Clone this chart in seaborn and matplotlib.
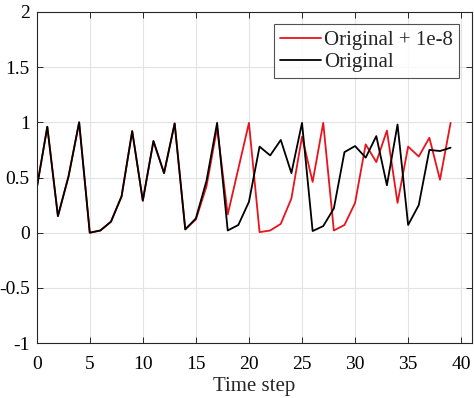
#!/usr/bin/env python3
"""Sensitivity of a chaotic series to a tiny perturbation of its start value."""

import matplotlib.pyplot as plt
import pandas as pd
import seaborn as sns

sns.set_theme(style="ticks")
plt.rcParams["font.family"] = ["Liberation Serif", "DejaVu Serif"]
plt.rcParams["axes.unicode_minus"] = False

TIME_STEPS = list(range(40))

ORIGINAL = [
    0.40, 0.96, 0.15, 0.51, 1.00, 0.00, 0.02, 0.10, 0.33, 0.92,
    0.29, 0.83, 0.54, 0.99, 0.03, 0.13, 0.47, 0.995, 0.02, 0.07,
    0.28, 0.78, 0.70, 0.84, 0.54, 0.995, 0.015, 0.06, 0.22, 0.73,
    0.785, 0.68, 0.875, 0.43, 0.98, 0.07, 0.25, 0.75, 0.74, 0.77,
]

PERTURBED = [
    0.40, 0.96, 0.15, 0.51, 1.00, 0.00, 0.02, 0.10, 0.33, 0.92,
    0.29, 0.83, 0.54, 0.99, 0.03, 0.12, 0.42, 0.95, 0.165, 0.58,
    0.995, 0.005, 0.02, 0.08, 0.31, 0.87, 0.46, 0.995, 0.02, 0.07,
    0.27, 0.80, 0.64, 0.925, 0.27, 0.78, 0.69, 0.86, 0.48, 0.995,
]

SERIES = ["Original + 1e-8", "Original"]
COLORS = ["#e8141c", "#000000"]


def build_frame() -> pd.DataFrame:
    frames = [
        pd.DataFrame({"step": TIME_STEPS, "value": PERTURBED, "series": SERIES[0]}),
        pd.DataFrame({"step": TIME_STEPS, "value": ORIGINAL, "series": SERIES[1]}),
    ]
    return pd.concat(frames, ignore_index=True)


def main() -> None:
    df = build_frame()
    fig = plt.figure(figsize=(4.74, 3.98), dpi=100)
    ax = fig.add_axes([0.0774, 0.138, 0.918, 0.832])

    sns.lineplot(
        data=df,
        x="step",
        y="value",
        hue="series",
        hue_order=SERIES,
        palette=COLORS,
        linewidth=1.3,
        ax=ax,
    )

    ax.set_xlim(0, 41)
    ax.set_ylim(-1, 2)
    ax.set_xticks(range(0, 41, 5))
    ax.set_yticks([-1, -0.5, 0, 0.5, 1, 1.5, 2])
    ax.set_yticklabels(["-1", "-0.5", "0", "0.5", "1", "1.5", "2"])
    ax.grid(True, color="#e3e3e3", linewidth=0.8)
    ax.tick_params(
        direction="in", length=4, width=0.7, labelsize=14,
        top=True, right=True, colors="#262626", labelcolor="black", pad=5,
    )
    ax.tick_params(axis="x", pad=9)
    for spine in ax.spines.values():
        spine.set_color("#262626")
        spine.set_linewidth(0.8)
    ax.set_xlabel("Time step", fontsize=15, labelpad=3)
    ax.set_ylabel("")

    legend = ax.legend(
        loc="upper right",
        fontsize=15,
        frameon=True,
        fancybox=False,
        handlelength=1.95,
        handletextpad=0.15,
        borderpad=0.3,
        labelspacing=0.1,
        borderaxespad=0.6,
    )
    legend.get_frame().set_edgecolor("#262626")
    legend.get_frame().set_linewidth(0.8)

    fig.savefig("out.png", dpi=100)
    plt.close(fig)


if __name__ == "__main__":
    main()
